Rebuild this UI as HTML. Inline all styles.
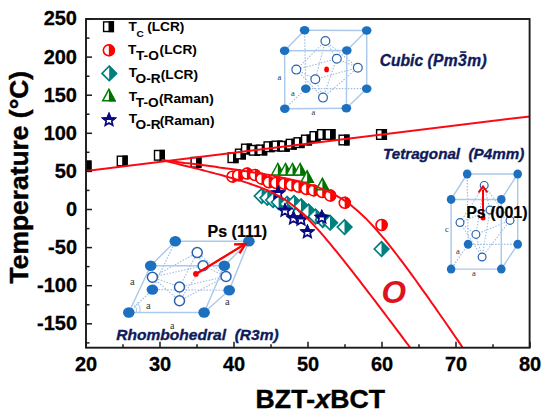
<!DOCTYPE html><html><head><meta charset="utf-8"><style>html,body{margin:0;padding:0;background:#fff;}svg{display:block;}text{font-family:"Liberation Sans",sans-serif;white-space:pre;}</style></head><body>
<svg width="550" height="419" viewBox="0 0 550 419">
<rect width="550" height="419" fill="#fff"/>
<defs>
<g id="sq"><rect x="-4.9" y="-4.8" width="9.8" height="9.6" fill="#fff" stroke="#000" stroke-width="1.4"/><rect x="0" y="-5.5" width="5.5" height="11" fill="#000"/></g>
<g id="ci"><circle r="5.45" fill="#fff" stroke="#ff0000" stroke-width="1.6"/><path d="M0,-6.25 A6.25,6.25 0 0 1 0,6.25 Z" fill="#ff0000"/></g>
<g id="di"><path d="M0,-7.2 L7.2,0 L0,7.2 L-7.2,0 Z" fill="#fff" stroke="#007f7f" stroke-width="1.7"/><path d="M0,-8.2 L8.2,0 L0,8.2 Z" fill="#007f7f"/></g>
<g id="tr"><path d="M0,-5.6 L6.2,5.8 L-6.2,5.8 Z" fill="#fff" stroke="#008000" stroke-width="1.5" stroke-linejoin="miter"/><path d="M0,-6.5 L7,6.5 L0,6.5 Z" fill="#007000"/></g>
<clipPath id="top"><rect x="-10" y="-10" width="20" height="10.6"/></clipPath>
<g id="st"><path d="M0.00,-5.60 L1.70,-1.65 L5.99,-1.25 L2.76,1.60 L3.70,5.80 L0.00,3.60 L-3.70,5.80 L-2.76,1.60 L-5.99,-1.25 L-1.70,-1.65Z" fill="#fff" stroke="#0a0a80" stroke-width="1.7" stroke-linejoin="miter" stroke-miterlimit="6"/><path d="M0.00,-5.60 L1.70,-1.65 L5.99,-1.25 L2.76,1.60 L3.70,5.80 L0.00,3.60 L-3.70,5.80 L-2.76,1.60 L-5.99,-1.25 L-1.70,-1.65Z" fill="#0a0a80" stroke="#0a0a80" stroke-width="1.7" stroke-miterlimit="6" clip-path="url(#top)"/></g>
<clipPath id="plot"><rect x="86" y="19" width="443.6" height="328.7"/></clipPath>
</defs>
<g>
<line x1="304.6" y1="30.2" x2="305.8" y2="88.7" stroke="#9dbde3" stroke-width="1.2" stroke-dasharray="1.5,1.5"/>
<line x1="305.8" y1="88.7" x2="366.7" y2="88.7" stroke="#9dbde3" stroke-width="1.2" stroke-dasharray="1.5,1.5"/>
<line x1="305.8" y1="88.7" x2="284.8" y2="108.8" stroke="#9dbde3" stroke-width="1.2" stroke-dasharray="1.5,1.5"/>
<line x1="325.4" y1="41" x2="296.3" y2="69.6" stroke="#9dbde3" stroke-width="1.1" stroke-dasharray="1.5,1.5"/>
<line x1="325.4" y1="41" x2="357.8" y2="67.7" stroke="#9dbde3" stroke-width="1.1" stroke-dasharray="1.5,1.5"/>
<line x1="325.4" y1="41" x2="315.3" y2="79.2" stroke="#9dbde3" stroke-width="1.1" stroke-dasharray="1.5,1.5"/>
<line x1="325.4" y1="41" x2="336.8" y2="58.7" stroke="#9dbde3" stroke-width="1.1" stroke-dasharray="1.5,1.5"/>
<line x1="323" y1="97.6" x2="296.3" y2="69.6" stroke="#9dbde3" stroke-width="1.1" stroke-dasharray="1.5,1.5"/>
<line x1="323" y1="97.6" x2="357.8" y2="67.7" stroke="#9dbde3" stroke-width="1.1" stroke-dasharray="1.5,1.5"/>
<line x1="323" y1="97.6" x2="315.3" y2="79.2" stroke="#9dbde3" stroke-width="1.1" stroke-dasharray="1.5,1.5"/>
<line x1="323" y1="97.6" x2="336.8" y2="58.7" stroke="#9dbde3" stroke-width="1.1" stroke-dasharray="1.5,1.5"/>
<line x1="296.3" y1="69.6" x2="315.3" y2="79.2" stroke="#9dbde3" stroke-width="1.1" stroke-dasharray="1.5,1.5"/>
<line x1="315.3" y1="79.2" x2="357.8" y2="67.7" stroke="#9dbde3" stroke-width="1.1" stroke-dasharray="1.5,1.5"/>
<line x1="357.8" y1="67.7" x2="336.8" y2="58.7" stroke="#9dbde3" stroke-width="1.1" stroke-dasharray="1.5,1.5"/>
<line x1="336.8" y1="58.7" x2="296.3" y2="69.6" stroke="#9dbde3" stroke-width="1.1" stroke-dasharray="1.5,1.5"/>
<line x1="284.6" y1="50.8" x2="346.8" y2="50.5" stroke="#abc9ea" stroke-width="1.45"/>
<line x1="346.8" y1="50.5" x2="346.4" y2="108.3" stroke="#abc9ea" stroke-width="1.45"/>
<line x1="346.4" y1="108.3" x2="284.8" y2="108.8" stroke="#abc9ea" stroke-width="1.45"/>
<line x1="284.8" y1="108.8" x2="284.6" y2="50.8" stroke="#abc9ea" stroke-width="1.45"/>
<line x1="304.6" y1="30.2" x2="366.7" y2="30.5" stroke="#abc9ea" stroke-width="1.45"/>
<line x1="366.7" y1="30.5" x2="366.7" y2="88.7" stroke="#abc9ea" stroke-width="1.45"/>
<line x1="284.6" y1="50.8" x2="304.6" y2="30.2" stroke="#abc9ea" stroke-width="1.45"/>
<line x1="346.8" y1="50.5" x2="366.7" y2="30.5" stroke="#abc9ea" stroke-width="1.45"/>
<line x1="346.4" y1="108.3" x2="366.7" y2="88.7" stroke="#abc9ea" stroke-width="1.45"/>
<ellipse cx="304.6" cy="30.2" rx="4.8" ry="4.2" fill="#1d6fbf"/>
<ellipse cx="366.7" cy="30.5" rx="4.8" ry="4.2" fill="#1d6fbf"/>
<ellipse cx="284.6" cy="50.8" rx="4.8" ry="4.2" fill="#1d6fbf"/>
<ellipse cx="346.8" cy="50.5" rx="4.8" ry="4.2" fill="#1d6fbf"/>
<ellipse cx="305.8" cy="88.7" rx="4.8" ry="4.2" fill="#1d6fbf"/>
<ellipse cx="366.7" cy="88.7" rx="4.8" ry="4.2" fill="#1d6fbf"/>
<ellipse cx="284.8" cy="108.8" rx="4.8" ry="4.2" fill="#1d6fbf"/>
<ellipse cx="346.4" cy="108.3" rx="4.8" ry="4.2" fill="#1d6fbf"/>
<circle cx="325.4" cy="41" r="4.4" fill="#fff" stroke="#2a62ad" stroke-width="1.2"/>
<circle cx="323" cy="97.6" r="4.4" fill="#fff" stroke="#2a62ad" stroke-width="1.2"/>
<circle cx="296.3" cy="69.6" r="4.4" fill="#fff" stroke="#2a62ad" stroke-width="1.2"/>
<circle cx="357.8" cy="67.7" r="4.4" fill="#fff" stroke="#2a62ad" stroke-width="1.2"/>
<circle cx="315.3" cy="79.2" r="4.4" fill="#fff" stroke="#2a62ad" stroke-width="1.2"/>
<circle cx="336.8" cy="58.7" r="4.4" fill="#fff" stroke="#2a62ad" stroke-width="1.2"/>
<ellipse cx="326.6" cy="69.4" rx="2.4" ry="2.9" fill="#ff0000"/>
<text x="277.5" y="80" font-size="8.5" fill="#333" style="font-family:'Liberation Serif',serif">a</text>
<text x="291" y="96" font-size="8.5" fill="#333" style="font-family:'Liberation Serif',serif">a</text>
<text x="311.5" y="114.5" font-size="8.5" fill="#333" style="font-family:'Liberation Serif',serif">a</text>
</g>
<g>
<line x1="467.2" y1="174" x2="468.1" y2="244.3" stroke="#9dbde3" stroke-width="1.2" stroke-dasharray="1.5,1.5"/>
<line x1="468.1" y1="244.3" x2="517.7" y2="244.3" stroke="#9dbde3" stroke-width="1.2" stroke-dasharray="1.5,1.5"/>
<line x1="468.1" y1="244.3" x2="451.1" y2="269.1" stroke="#9dbde3" stroke-width="1.2" stroke-dasharray="1.5,1.5"/>
<line x1="484.2" y1="185.4" x2="460" y2="222.6" stroke="#9dbde3" stroke-width="1.1" stroke-dasharray="1.5,1.5"/>
<line x1="484.2" y1="185.4" x2="510" y2="220.4" stroke="#9dbde3" stroke-width="1.1" stroke-dasharray="1.5,1.5"/>
<line x1="484.2" y1="185.4" x2="475.9" y2="234.4" stroke="#9dbde3" stroke-width="1.1" stroke-dasharray="1.5,1.5"/>
<line x1="484.2" y1="185.4" x2="490" y2="210" stroke="#9dbde3" stroke-width="1.1" stroke-dasharray="1.5,1.5"/>
<line x1="482.1" y1="257" x2="460" y2="222.6" stroke="#9dbde3" stroke-width="1.1" stroke-dasharray="1.5,1.5"/>
<line x1="482.1" y1="257" x2="510" y2="220.4" stroke="#9dbde3" stroke-width="1.1" stroke-dasharray="1.5,1.5"/>
<line x1="482.1" y1="257" x2="475.9" y2="234.4" stroke="#9dbde3" stroke-width="1.1" stroke-dasharray="1.5,1.5"/>
<line x1="482.1" y1="257" x2="490" y2="210" stroke="#9dbde3" stroke-width="1.1" stroke-dasharray="1.5,1.5"/>
<line x1="460" y1="222.6" x2="475.9" y2="234.4" stroke="#9dbde3" stroke-width="1.1" stroke-dasharray="1.5,1.5"/>
<line x1="475.9" y1="234.4" x2="510" y2="220.4" stroke="#9dbde3" stroke-width="1.1" stroke-dasharray="1.5,1.5"/>
<line x1="510" y1="220.4" x2="490" y2="210" stroke="#9dbde3" stroke-width="1.1" stroke-dasharray="1.5,1.5"/>
<line x1="490" y1="210" x2="460" y2="222.6" stroke="#9dbde3" stroke-width="1.1" stroke-dasharray="1.5,1.5"/>
<line x1="451.1" y1="199.4" x2="501.3" y2="199.4" stroke="#abc9ea" stroke-width="1.45"/>
<line x1="501.3" y1="199.4" x2="501.3" y2="269.1" stroke="#abc9ea" stroke-width="1.45"/>
<line x1="501.3" y1="269.1" x2="451.1" y2="269.1" stroke="#abc9ea" stroke-width="1.45"/>
<line x1="451.1" y1="269.1" x2="451.1" y2="199.4" stroke="#abc9ea" stroke-width="1.45"/>
<line x1="467.2" y1="174" x2="517.7" y2="174" stroke="#abc9ea" stroke-width="1.45"/>
<line x1="517.7" y1="174" x2="517.7" y2="244.3" stroke="#abc9ea" stroke-width="1.45"/>
<line x1="451.1" y1="199.4" x2="467.2" y2="174" stroke="#abc9ea" stroke-width="1.45"/>
<line x1="501.3" y1="199.4" x2="517.7" y2="174" stroke="#abc9ea" stroke-width="1.45"/>
<line x1="501.3" y1="269.1" x2="517.7" y2="244.3" stroke="#abc9ea" stroke-width="1.45"/>
<ellipse cx="467.2" cy="174" rx="4.3" ry="4.5" fill="#1d6fbf"/>
<ellipse cx="517.7" cy="174" rx="4.3" ry="4.5" fill="#1d6fbf"/>
<ellipse cx="451.1" cy="199.4" rx="4.3" ry="4.5" fill="#1d6fbf"/>
<ellipse cx="501.3" cy="199.4" rx="4.3" ry="4.5" fill="#1d6fbf"/>
<ellipse cx="468.1" cy="244.3" rx="4.3" ry="4.5" fill="#1d6fbf"/>
<ellipse cx="517.7" cy="244.3" rx="4.3" ry="4.5" fill="#1d6fbf"/>
<ellipse cx="451.1" cy="269.1" rx="4.3" ry="4.5" fill="#1d6fbf"/>
<ellipse cx="501.3" cy="269.1" rx="4.3" ry="4.5" fill="#1d6fbf"/>
<circle cx="484.2" cy="185.4" r="3.9" fill="#fff" stroke="#2a62ad" stroke-width="1.2"/>
<circle cx="482.1" cy="257" r="3.9" fill="#fff" stroke="#2a62ad" stroke-width="1.2"/>
<circle cx="460" cy="222.6" r="3.9" fill="#fff" stroke="#2a62ad" stroke-width="1.2"/>
<circle cx="510" cy="220.4" r="3.9" fill="#fff" stroke="#2a62ad" stroke-width="1.2"/>
<circle cx="475.9" cy="234.4" r="3.9" fill="#fff" stroke="#2a62ad" stroke-width="1.2"/>
<circle cx="490" cy="210" r="3.9" fill="#fff" stroke="#2a62ad" stroke-width="1.2"/>
<text x="445" y="232" font-size="8.5" fill="#333" style="font-family:'Liberation Serif',serif">c</text>
<text x="456" y="254" font-size="8.5" fill="#333" style="font-family:'Liberation Serif',serif">a</text>
<text x="472" y="276" font-size="8.5" fill="#333" style="font-family:'Liberation Serif',serif">a</text>
<line x1="483" y1="218" x2="483" y2="190" stroke="#ff0000" stroke-width="2"/>
<path d="M478.5,192.5 L483,186.5 L487.5,192.5" fill="none" stroke="#ff0000" stroke-width="2"/>
<circle cx="483" cy="218" r="2.5" fill="#ff0000"/>
</g>
<g>
<line x1="175.3" y1="241.2" x2="152.4" y2="289.6" stroke="#9dbde3" stroke-width="1.2" stroke-dasharray="1.5,1.5"/>
<line x1="152.4" y1="289.6" x2="229.2" y2="290.3" stroke="#9dbde3" stroke-width="1.2" stroke-dasharray="1.5,1.5"/>
<line x1="152.4" y1="289.6" x2="128.8" y2="312.5" stroke="#9dbde3" stroke-width="1.2" stroke-dasharray="1.5,1.5"/>
<line x1="197.2" y1="252.6" x2="152.4" y2="277.2" stroke="#9dbde3" stroke-width="1.1" stroke-dasharray="1.5,1.5"/>
<line x1="197.2" y1="252.6" x2="226" y2="276.5" stroke="#9dbde3" stroke-width="1.1" stroke-dasharray="1.5,1.5"/>
<line x1="197.2" y1="252.6" x2="179.5" y2="287" stroke="#9dbde3" stroke-width="1.1" stroke-dasharray="1.5,1.5"/>
<line x1="197.2" y1="252.6" x2="203.1" y2="265.7" stroke="#9dbde3" stroke-width="1.1" stroke-dasharray="1.5,1.5"/>
<line x1="179.5" y1="300.7" x2="152.4" y2="277.2" stroke="#9dbde3" stroke-width="1.1" stroke-dasharray="1.5,1.5"/>
<line x1="179.5" y1="300.7" x2="226" y2="276.5" stroke="#9dbde3" stroke-width="1.1" stroke-dasharray="1.5,1.5"/>
<line x1="179.5" y1="300.7" x2="179.5" y2="287" stroke="#9dbde3" stroke-width="1.1" stroke-dasharray="1.5,1.5"/>
<line x1="179.5" y1="300.7" x2="203.1" y2="265.7" stroke="#9dbde3" stroke-width="1.1" stroke-dasharray="1.5,1.5"/>
<line x1="152.4" y1="277.2" x2="179.5" y2="287" stroke="#9dbde3" stroke-width="1.1" stroke-dasharray="1.5,1.5"/>
<line x1="179.5" y1="287" x2="226" y2="276.5" stroke="#9dbde3" stroke-width="1.1" stroke-dasharray="1.5,1.5"/>
<line x1="226" y1="276.5" x2="203.1" y2="265.7" stroke="#9dbde3" stroke-width="1.1" stroke-dasharray="1.5,1.5"/>
<line x1="203.1" y1="265.7" x2="152.4" y2="277.2" stroke="#9dbde3" stroke-width="1.1" stroke-dasharray="1.5,1.5"/>
<line x1="150.7" y1="265.7" x2="224.3" y2="265.7" stroke="#abc9ea" stroke-width="1.45"/>
<line x1="224.3" y1="265.7" x2="204.1" y2="312.5" stroke="#abc9ea" stroke-width="1.45"/>
<line x1="204.1" y1="312.5" x2="128.8" y2="312.5" stroke="#abc9ea" stroke-width="1.45"/>
<line x1="128.8" y1="312.5" x2="150.7" y2="265.7" stroke="#abc9ea" stroke-width="1.45"/>
<line x1="175.3" y1="241.2" x2="248.9" y2="241.2" stroke="#abc9ea" stroke-width="1.45"/>
<line x1="248.9" y1="241.2" x2="229.2" y2="290.3" stroke="#abc9ea" stroke-width="1.45"/>
<line x1="150.7" y1="265.7" x2="175.3" y2="241.2" stroke="#abc9ea" stroke-width="1.45"/>
<line x1="224.3" y1="265.7" x2="248.9" y2="241.2" stroke="#abc9ea" stroke-width="1.45"/>
<line x1="204.1" y1="312.5" x2="229.2" y2="290.3" stroke="#abc9ea" stroke-width="1.45"/>
<ellipse cx="175.3" cy="241.2" rx="5.8" ry="5.2" fill="#1d6fbf"/>
<ellipse cx="248.9" cy="241.2" rx="5.8" ry="5.2" fill="#1d6fbf"/>
<ellipse cx="150.7" cy="265.7" rx="5.8" ry="5.2" fill="#1d6fbf"/>
<ellipse cx="224.3" cy="265.7" rx="5.8" ry="5.2" fill="#1d6fbf"/>
<ellipse cx="152.4" cy="289.6" rx="5.8" ry="5.2" fill="#1d6fbf"/>
<ellipse cx="229.2" cy="290.3" rx="5.8" ry="5.2" fill="#1d6fbf"/>
<ellipse cx="128.8" cy="312.5" rx="5.8" ry="5.2" fill="#1d6fbf"/>
<ellipse cx="204.1" cy="312.5" rx="5.8" ry="5.2" fill="#1d6fbf"/>
<circle cx="197.2" cy="252.6" r="5" fill="#fff" stroke="#2a62ad" stroke-width="1.5"/>
<circle cx="179.5" cy="300.7" r="5" fill="#fff" stroke="#2a62ad" stroke-width="1.5"/>
<circle cx="152.4" cy="277.2" r="5" fill="#fff" stroke="#2a62ad" stroke-width="1.5"/>
<circle cx="226" cy="276.5" r="5" fill="#fff" stroke="#2a62ad" stroke-width="1.5"/>
<circle cx="179.5" cy="287" r="5" fill="#fff" stroke="#2a62ad" stroke-width="1.5"/>
<circle cx="203.1" cy="265.7" r="5" fill="#fff" stroke="#2a62ad" stroke-width="1.5"/>
<text x="130" y="285" font-size="10.5" fill="#333" style="font-family:'Liberation Serif',serif">a</text>
<text x="146" y="309" font-size="10.5" fill="#333" style="font-family:'Liberation Serif',serif">a</text>
<text x="170" y="329" font-size="10" fill="#333" style="font-family:'Liberation Serif',serif">a</text>
<text x="225" y="305" font-size="10.5" fill="#333" style="font-family:'Liberation Serif',serif">a</text>
<path d="M136.5,312.5 A8,8 0 0 0 134.5,305" fill="none" stroke="#abc9ea" stroke-width="1"/>
<path d="M140,312.5 A11.5,11.5 0 0 0 137,302" fill="none" stroke="#abc9ea" stroke-width="1"/>
<line x1="196" y1="274" x2="243.5" y2="245" stroke="#ff0000" stroke-width="2.3"/>
<path d="M234,244.3 L245.5,244 L239.5,253.3" fill="none" stroke="#ff0000" stroke-width="2.3" stroke-linejoin="miter"/>
<circle cx="195.9" cy="273.9" r="2.8" fill="#ff0000"/>
</g>
<g clip-path="url(#plot)">
<use href="#sq" x="86" y="166"/>
<use href="#sq" x="122.2" y="161"/>
<use href="#sq" x="159.4" y="155.3"/>
<use href="#sq" x="196" y="162.3"/>
<use href="#sq" x="233" y="157.7"/>
<use href="#sq" x="240.4" y="154"/>
<use href="#sq" x="246.5" y="149"/>
<use href="#sq" x="254.4" y="150.3"/>
<use href="#sq" x="261.7" y="150"/>
<use href="#sq" x="269" y="146.7"/>
<use href="#sq" x="277" y="146"/>
<use href="#sq" x="284.2" y="146.3"/>
<use href="#sq" x="291.2" y="144.2"/>
<use href="#sq" x="299" y="142.6"/>
<use href="#sq" x="306.5" y="140"/>
<use href="#sq" x="315" y="136.5"/>
<use href="#sq" x="322.5" y="134.5"/>
<use href="#sq" x="330" y="134.5"/>
<use href="#sq" x="344" y="140"/>
<use href="#sq" x="381.5" y="134.5"/>
<use href="#ci" x="232.4" y="176.7"/>
<use href="#ci" x="238.2" y="175.3"/>
<use href="#ci" x="246.9" y="173.6"/>
<use href="#ci" x="254.9" y="175"/>
<use href="#ci" x="261.5" y="178.7"/>
<use href="#ci" x="268.7" y="182.3"/>
<use href="#ci" x="276" y="183"/>
<use href="#ci" x="284" y="183.8"/>
<use href="#ci" x="291.3" y="185.2"/>
<use href="#ci" x="298.5" y="186.8"/>
<use href="#ci" x="306.2" y="189"/>
<use href="#ci" x="313.5" y="190.4"/>
<use href="#ci" x="322.2" y="192"/>
<use href="#ci" x="330.2" y="195.6"/>
<use href="#ci" x="344.7" y="202.8"/>
<use href="#ci" x="381.5" y="225"/>
<use href="#di" x="261.6" y="196"/>
<use href="#di" x="267.3" y="197.8"/>
<use href="#di" x="273" y="200"/>
<use href="#di" x="278.6" y="202.2"/>
<use href="#di" x="287" y="203.8"/>
<use href="#di" x="294" y="203"/>
<use href="#di" x="301" y="206.3"/>
<use href="#di" x="308.5" y="211.5"/>
<use href="#di" x="315.5" y="216.5"/>
<use href="#di" x="322.7" y="220"/>
<use href="#di" x="330" y="222.7"/>
<use href="#di" x="344.5" y="227.1"/>
<use href="#di" x="381.5" y="249"/>
<use href="#tr" x="277.8" y="169.1"/>
<use href="#tr" x="285.5" y="169.1"/>
<use href="#tr" x="292.5" y="169.1"/>
<use href="#tr" x="300.1" y="169.1"/>
<use href="#tr" x="307.1" y="176.5"/>
<use href="#tr" x="322.4" y="184"/>
<use href="#st" x="278.2" y="192.5"/>
<use href="#st" x="285" y="209.9"/>
<use href="#st" x="293.5" y="217.6"/>
<use href="#st" x="301" y="218.9"/>
<use href="#st" x="307.4" y="231.5"/>
<use href="#st" x="321.8" y="216.8"/>
</g>
<g clip-path="url(#plot)" fill="none" stroke="#fa0a14" stroke-width="2">
<line x1="86" y1="170.9" x2="529.6" y2="116.4"/>
<path d="M161.5,160.1 L165.4,160.5 L169.2,161.0 L173.1,161.5 L176.9,161.9 L180.8,162.4 L184.6,162.9 L188.5,163.3 L192.3,163.8 L196.2,164.3 L200.0,164.8 L203.9,165.3 L207.8,165.8 L211.6,166.3 L215.5,166.8 L219.3,167.4 L223.2,167.9 L227.0,168.4 L230.9,169.0 L234.7,169.5 L238.6,170.1 L242.4,170.7 L246.3,171.3 L250.2,171.9 L254.0,172.5 L257.9,173.1 L261.7,173.8 L265.6,174.4 L269.4,175.1 L273.3,175.8 L277.1,176.6 L281.0,177.4 L284.8,178.2 L288.7,179.0 L292.6,179.9 L296.4,180.8 L300.3,181.8 L304.1,182.9 L308.0,184.0 L311.8,185.2 L315.7,186.5 L319.5,187.9 L323.4,189.5 L327.2,191.1 L331.1,192.9 L334.9,194.9 L338.8,197.1 L342.7,199.4 L346.5,202.0 L350.4,204.8 L354.2,207.9 L358.1,211.2 L361.9,214.7 L365.8,218.4 L369.6,222.4 L373.5,226.5 L377.3,230.8 L381.2,235.3 L385.1,239.9 L388.9,244.7 L392.8,249.6 L396.6,254.5 L400.5,259.6 L404.3,264.7 L408.2,269.9 L412.0,275.2 L415.9,280.5 L419.7,285.9 L423.6,291.3 L427.5,296.7 L431.3,302.2 L435.2,307.7 L439.0,313.2 L442.9,318.8 L446.7,324.3 L450.6,329.9 L454.4,335.5 L458.3,341.1 L462.1,346.8 L466.0,352.4"/>
<path d="M161.5,160.1 L164.7,160.8 L167.9,161.6 L171.1,162.4 L174.2,163.1 L177.4,163.9 L180.6,164.7 L183.8,165.5 L187.0,166.2 L190.2,167.0 L193.3,167.8 L196.5,168.6 L199.7,169.4 L202.9,170.2 L206.1,171.1 L209.3,171.9 L212.4,172.7 L215.6,173.6 L218.8,174.4 L222.0,175.3 L225.2,176.2 L228.4,177.1 L231.5,178.0 L234.7,178.9 L237.9,179.9 L241.1,180.9 L244.3,181.9 L247.5,182.9 L250.6,184.0 L253.8,185.1 L257.0,186.2 L260.2,187.4 L263.4,188.7 L266.6,190.0 L269.7,191.4 L272.9,192.9 L276.1,194.6 L279.3,196.3 L282.5,198.2 L285.7,200.2 L288.8,202.3 L292.0,204.7 L295.2,207.2 L298.4,209.9 L301.6,212.7 L304.8,215.7 L307.9,218.9 L311.1,222.2 L314.3,225.6 L317.5,229.1 L320.7,232.7 L323.9,236.3 L327.0,240.1 L330.2,243.9 L333.4,247.8 L336.6,251.7 L339.8,255.6 L343.0,259.6 L346.1,263.6 L349.3,267.7 L352.5,271.7 L355.7,275.8 L358.9,279.9 L362.1,284.1 L365.2,288.2 L368.4,292.3 L371.6,296.5 L374.8,300.7 L378.0,304.9 L381.2,309.1 L384.3,313.2 L387.5,317.5 L390.7,321.7 L393.9,325.9 L397.1,330.1 L400.3,334.3 L403.4,338.6 L406.6,342.8 L409.8,347.0 L413.0,351.3"/>
</g>
<g stroke="#1a1a1a" fill="none">
<rect x="86" y="19" width="443.6" height="328.7" stroke-width="1.9"/>
<line x1="86" y1="342.9" x2="89.5" y2="342.9" stroke-width="1.5"/>
<line x1="86" y1="323.8" x2="92" y2="323.8" stroke-width="1.5"/>
<line x1="86" y1="304.8" x2="89.5" y2="304.8" stroke-width="1.5"/>
<line x1="86" y1="285.7" x2="92" y2="285.7" stroke-width="1.5"/>
<line x1="86" y1="266.6" x2="89.5" y2="266.6" stroke-width="1.5"/>
<line x1="86" y1="247.6" x2="92" y2="247.6" stroke-width="1.5"/>
<line x1="86" y1="228.6" x2="89.5" y2="228.6" stroke-width="1.5"/>
<line x1="86" y1="209.5" x2="92" y2="209.5" stroke-width="1.5"/>
<line x1="86" y1="190.4" x2="89.5" y2="190.4" stroke-width="1.5"/>
<line x1="86" y1="171.4" x2="92" y2="171.4" stroke-width="1.5"/>
<line x1="86" y1="152.3" x2="89.5" y2="152.3" stroke-width="1.5"/>
<line x1="86" y1="133.3" x2="92" y2="133.3" stroke-width="1.5"/>
<line x1="86" y1="114.2" x2="89.5" y2="114.2" stroke-width="1.5"/>
<line x1="86" y1="95.2" x2="92" y2="95.2" stroke-width="1.5"/>
<line x1="86" y1="76.2" x2="89.5" y2="76.2" stroke-width="1.5"/>
<line x1="86" y1="57.1" x2="92" y2="57.1" stroke-width="1.5"/>
<line x1="86" y1="38.1" x2="89.5" y2="38.1" stroke-width="1.5"/>
<line x1="86" y1="19.0" x2="92" y2="19.0" stroke-width="1.5"/>
<line x1="86.0" y1="347.7" x2="86.0" y2="341.7" stroke-width="1.5"/>
<line x1="123.0" y1="347.7" x2="123.0" y2="344.2" stroke-width="1.5"/>
<line x1="160.0" y1="347.7" x2="160.0" y2="341.7" stroke-width="1.5"/>
<line x1="197.0" y1="347.7" x2="197.0" y2="344.2" stroke-width="1.5"/>
<line x1="234.0" y1="347.7" x2="234.0" y2="341.7" stroke-width="1.5"/>
<line x1="271.0" y1="347.7" x2="271.0" y2="344.2" stroke-width="1.5"/>
<line x1="308.0" y1="347.7" x2="308.0" y2="341.7" stroke-width="1.5"/>
<line x1="345.0" y1="347.7" x2="345.0" y2="344.2" stroke-width="1.5"/>
<line x1="382.0" y1="347.7" x2="382.0" y2="341.7" stroke-width="1.5"/>
<line x1="419.0" y1="347.7" x2="419.0" y2="344.2" stroke-width="1.5"/>
<line x1="456.0" y1="347.7" x2="456.0" y2="341.7" stroke-width="1.5"/>
<line x1="493.0" y1="347.7" x2="493.0" y2="344.2" stroke-width="1.5"/>
<line x1="530.0" y1="347.7" x2="530.0" y2="341.7" stroke-width="1.5"/>
</g>
<g font-size="20" font-weight="bold" fill="#000" stroke="#000" stroke-width="0.3">
<text x="77" y="330.2" text-anchor="end">-150</text>
<text x="77" y="292.1" text-anchor="end">-100</text>
<text x="77" y="254.0" text-anchor="end">-50</text>
<text x="77" y="215.9" text-anchor="end">0</text>
<text x="77" y="177.8" text-anchor="end">50</text>
<text x="77" y="139.7" text-anchor="end">100</text>
<text x="77" y="101.6" text-anchor="end">150</text>
<text x="77" y="63.5" text-anchor="end">200</text>
<text x="77" y="25.4" text-anchor="end">250</text>
<text x="86.0" y="370.7" text-anchor="middle">20</text>
<text x="160.0" y="370.7" text-anchor="middle">30</text>
<text x="234.0" y="370.7" text-anchor="middle">40</text>
<text x="308.0" y="370.7" text-anchor="middle">50</text>
<text x="382.0" y="370.7" text-anchor="middle">60</text>
<text x="456.0" y="370.7" text-anchor="middle">70</text>
<text x="530.0" y="370.7" text-anchor="middle">80</text>
</g>
<text x="0" y="0" font-size="26.4" font-weight="bold" stroke="#000" stroke-width="0.45" transform="translate(27.6,283.4) rotate(-90)">Temperature (°C)</text>
<text x="255.5" y="407.7" font-size="26.6" font-weight="bold" letter-spacing="0.15" stroke="#000" stroke-width="0.45">BZT-<tspan font-style="italic">x</tspan>BCT</text>
<use href="#sq" x="108.5" y="26.7"/>
<use href="#ci" x="108.8" y="50.3"/>
<use href="#di" x="109.2" y="73.4"/>
<use href="#tr" x="108.9" y="95"/>
<use href="#st" x="109" y="119.4"/>
<g font-weight="bold" fill="#000" stroke="#000" stroke-width="0.05">
<text transform="translate(128.6,31.4) scale(1.14,1)" font-size="12">T</text>
<text transform="translate(136.6,36.6) scale(1.14,1)" font-size="8.8">C</text>
<text transform="translate(147.2,31.4) scale(1.14,1)" font-size="12">(LCR)</text>
<text transform="translate(128.0,53.5) scale(1.14,1)" font-size="12">T</text>
<text transform="translate(136.0,59.7) scale(1.14,1)" font-size="12">T-O</text>
<text transform="translate(159.6,54) scale(1.14,1)" font-size="12">(LCR)</text>
<text transform="translate(128.8,77) scale(1.14,1)" font-size="12">T</text>
<text transform="translate(135.6,83) scale(1.14,1)" font-size="12">O-R</text>
<text transform="translate(160.8,78.5) scale(1.14,1)" font-size="12">(LCR)</text>
<text transform="translate(128.8,101) scale(1.14,1)" font-size="12">T</text>
<text transform="translate(135.8,107) scale(1.14,1)" font-size="12">T-O</text>
<text transform="translate(159.0,102.5) scale(1.14,1)" font-size="12">(Raman)</text>
<text transform="translate(128.8,123) scale(1.14,1)" font-size="12">T</text>
<text transform="translate(135.6,129) scale(1.14,1)" font-size="12">O-R</text>
<text transform="translate(159.8,124.5) scale(1.14,1)" font-size="12">(Raman)</text>
</g>
<g font-weight="bold" font-style="italic" fill="#0f1a5a" stroke="#0f1a5a" stroke-width="0.35" font-size="15">
<text x="379.8" y="65.6" font-size="15.6">Cubic <tspan letter-spacing="0.4">(Pm3m)</tspan></text>
<rect x="460.6" y="51.4" width="5.5" height="1.4"/>
<text x="383" y="158.9" font-size="15.2">Tetragonal  (P4mm)</text>
<text x="116.3" y="340" font-size="15.55">Rhombohedral  (R3m)</text>
</g>
<g font-weight="bold" fill="#000" font-size="16" stroke="#000" stroke-width="0.2">
<text x="466.2" y="218">Ps (001)</text>
<text x="207.6" y="236.5">Ps (111)</text>
</g>
<text x="381.5" y="303" font-size="31.5" font-weight="bold" font-style="italic" fill="#dc141e">O</text>
<rect x="541.2" y="0" width="9" height="419" fill="#fff"/>
</svg></body></html>
